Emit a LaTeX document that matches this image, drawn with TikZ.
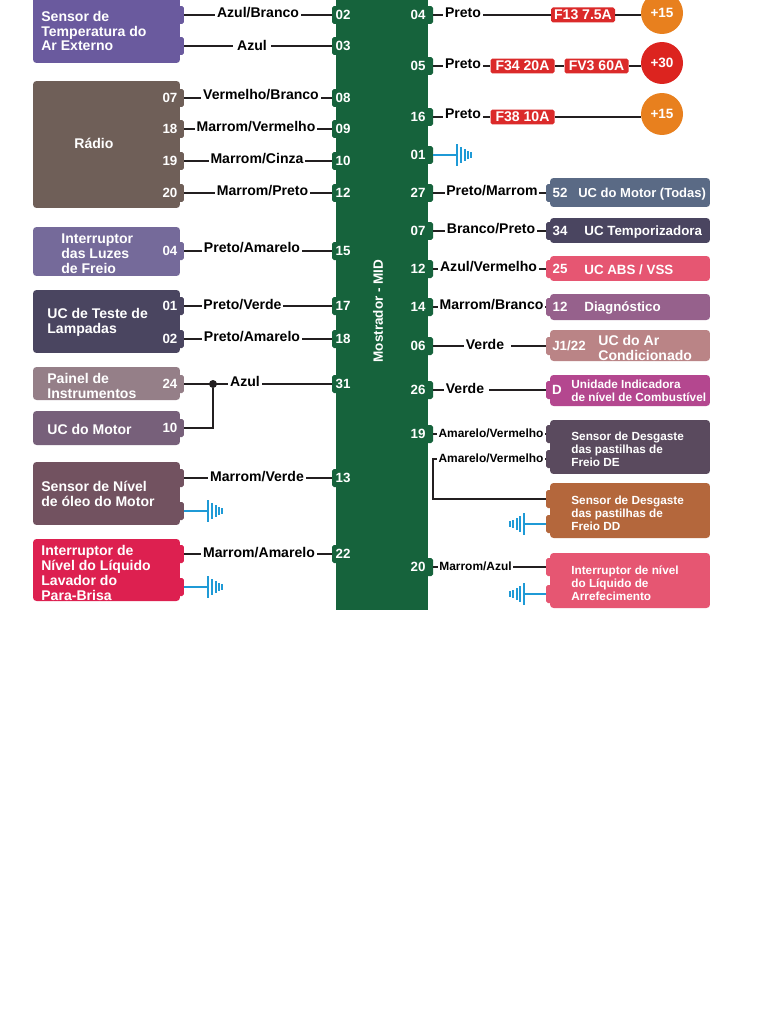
\documentclass[tikz,border=0pt]{standalone}
\usepackage{fontspec}
\setmainfont{Liberation Sans}
\definecolor{barcol}{HTML}{16633C}
\definecolor{tempcol}{HTML}{6A5A9E}
\definecolor{radiocol}{HTML}{6F5F58}
\definecolor{luzescol}{HTML}{756A9A}
\definecolor{testecol}{HTML}{4A4560}
\definecolor{painelcol}{HTML}{957F88}
\definecolor{motorcol}{HTML}{77607A}
\definecolor{oleocol}{HTML}{725260}
\definecolor{lavadorcol}{HTML}{DD2050}
\definecolor{todascol}{HTML}{5A6A85}
\definecolor{abscol}{HTML}{E65672}
\definecolor{diagcol}{HTML}{96618C}
\definecolor{arcol}{HTML}{BA8486}
\definecolor{combcol}{HTML}{B4478F}
\definecolor{decol}{HTML}{5A4A5E}
\definecolor{ddcol}{HTML}{B4673C}
\definecolor{fusecol}{HTML}{DB2A2A}
\definecolor{orangecol}{HTML}{E8801E}
\definecolor{redcol}{HTML}{DC241F}
\definecolor{gndcol}{HTML}{1F9AD6}
\definecolor{wirecol}{HTML}{231F20}
\tikzset{
	boxl/.style={rectangle, rounded corners=2pt, minimum width=2.94cm, inner sep=0pt},
	boxr/.style={rectangle, rounded corners=2pt, minimum width=3.2cm, inner sep=0pt},
	tab/.style={rectangle, rounded corners=1pt, minimum width=0.56cm, minimum height=0.36cm, inner sep=0pt,
		text=white, font=\fontsize{7.6}{8}\selectfont\bfseries},
	pinl/.style={tab, fill=barcol, minimum width=0.44cm},
	pinr/.style={tab, fill=barcol, minimum width=0.6cm},
	txt/.style={anchor=west, align=left, inner sep=0pt, text=white, font=\fontsize{8}{8.5}\selectfont\bfseries},
	txts/.style={txt, font=\fontsize{6.7}{7.4}\selectfont\bfseries},
	wire/.style={draw=wirecol, line width=0.04cm},
	lbl/.style={fill=white, inner xsep=1pt, inner ysep=1.5pt, text=black, font=\fontsize{8}{8}\selectfont\bfseries},
	lbls/.style={lbl, font=\fontsize{6.8}{8}\selectfont\bfseries},
	fuse/.style={rectangle, rounded corners=1pt, fill=fusecol, minimum width=1.28cm, minimum height=0.3cm, inner sep=0pt,
		text=white, font=\fontsize{8}{8}\selectfont\bfseries},
	feed/.style={circle, minimum size=0.84cm, inner sep=0pt, text=white, font=\fontsize{7.7}{8}\selectfont\bfseries},
	gndwire/.style={draw=gndcol, line width=0.04cm},
	gnd/.pic={
		\draw[gndcol, line width=0.04cm] (0,-11) -- (0,11);
		\draw[gndcol, line width=0.04cm] (4,-8) -- (4,8);
		\draw[gndcol, line width=0.04cm] (7.5,-6) -- (7.5,6);
		\draw[gndcol, line width=0.04cm] (11,-4) -- (11,4);
		\draw[gndcol, line width=0.04cm] (14,-3) -- (14,3);
	}
}
\begin{document}
\begin{tikzpicture}[x=0.02cm, y=-0.02cm]
	\clip (0,0) rectangle (768,1024);
	\fill[white] (0,0) rectangle (768,1024);

	% left boxes
	\node[boxl, fill=tempcol, minimum height=1.46cm] (temp) at (106.5,26.5) {};
	\node[boxl, fill=radiocol, minimum height=2.54cm] (radio) at (106.5,144.5) {};
	\node[boxl, fill=luzescol, minimum height=0.98cm] (luzes) at (106.5,251.5) {};
	\node[boxl, fill=testecol, minimum height=1.26cm] (teste) at (106.5,321.5) {};
	\node[boxl, fill=painelcol, minimum height=0.66cm] (painel) at (106.5,383.5) {};
	\node[boxl, fill=motorcol, minimum height=0.68cm] (motor) at (106.5,428) {};
	\node[boxl, fill=oleocol, minimum height=1.26cm] (oleo) at (106.5,493.5) {};
	\node[boxl, fill=lavadorcol, minimum height=1.24cm] (lavador) at (106.5,570) {};

	\node[txt] (temptext) at (41,31) {Sensor de\\Temperatura do\\Ar Externo};
	\node[txt] (radiotext) at (74,143) {Rádio};
	\node[txt] (luzestext) at (61,254) {Interruptor\\das Luzes\\de Freio};
	\node[txt] (testetext) at (47,322) {UC de Teste de\\Lampadas};
	\node[txt, font=\fontsize{8}{9}\selectfont\bfseries] (paineltext) at (47,386) {Painel de\\Instrumentos};
	\node[txt] (motortext) at (47,429) {UC do Motor};
	\node[txt] (oleotext) at (41,494) {Sensor de Nível\\de óleo do Motor};
	\node[txt] (lavadortext) at (41,573) {Interruptor de\\Nível do Líquido\\Lavador do\\Para-Brisa};

	% left tabs
	\node[tab, fill=tempcol] (tempa) at (170,15) {};
	\node[tab, fill=tempcol] (tempb) at (170,46) {};
	\node[tab, fill=radiocol] (radioa) at (170,98) {07};
	\node[tab, fill=radiocol] (radiob) at (170,129) {18};
	\node[tab, fill=radiocol] (radioc) at (170,161) {19};
	\node[tab, fill=radiocol] (radiod) at (170,193) {20};
	\node[tab, fill=luzescol] (luzesa) at (170,251) {04};
	\node[tab, fill=testecol] (testea) at (170,306) {01};
	\node[tab, fill=testecol] (testeb) at (170,339) {02};
	\node[tab, fill=painelcol] (painela) at (170,384) {24};
	\node[tab, fill=motorcol] (motora) at (170,428) {10};
	\node[tab, fill=oleocol] (oleoa) at (170,478) {};
	\node[tab, fill=oleocol] (oleob) at (170,511) {};
	\node[tab, fill=lavadorcol] (lavadora) at (170,554) {};
	\node[tab, fill=lavadorcol] (lavadorb) at (170,587) {};

	% module bar
	\node[rectangle, fill=barcol, minimum width=1.84cm, minimum height=12.4cm, inner sep=0pt] (mid) at (382,300) {};
	\node[rotate=90, inner sep=0pt, text=white, font=\fontsize{7.7}{8}\selectfont\bfseries] (midtext) at (378,311) {Mostrador - MID};

	\node[pinl] (l02) at (343,15) {02};
	\node[pinl] (l03) at (343,46) {03};
	\node[pinl] (l08) at (343,98) {08};
	\node[pinl] (l09) at (343,129) {09};
	\node[pinl] (l10) at (343,161) {10};
	\node[pinl] (l12) at (343,193) {12};
	\node[pinl] (l15) at (343,251) {15};
	\node[pinl] (l17) at (343,306) {17};
	\node[pinl] (l18) at (343,339) {18};
	\node[pinl] (l31) at (343,384) {31};
	\node[pinl] (l13) at (343,478) {13};
	\node[pinl] (l22) at (343,554) {22};

	\node[pinr] (r04) at (418,15) {04};
	\node[pinr] (r05) at (418,66) {05};
	\node[pinr] (r16) at (418,117) {16};
	\node[pinr] (r01) at (418,155) {01};
	\node[pinr] (r27) at (418,193) {27};
	\node[pinr] (r07) at (418,231) {07};
	\node[pinr] (r12) at (418,269) {12};
	\node[pinr] (r14) at (418,307) {14};
	\node[pinr] (r06) at (418,346) {06};
	\node[pinr] (r26) at (418,390) {26};
	\node[pinr] (r19) at (418,434) {19};
	\node[pinr] (r20) at (418,567) {20};

	% fuses and feeds
	\node[fuse] (f13) at (583,15) {F13 7.5A};
	\node[fuse] (f34) at (522.5,66) {F34 20A};
	\node[fuse] (fv3) at (596.5,66) {FV3 60A};
	\node[fuse] (f38) at (522.5,117) {F38 10A};
	\node[feed, fill=orangecol] (feeda) at (662,13) {+15};
	\node[feed, fill=redcol] (feedb) at (662,63) {+30};
	\node[feed, fill=orangecol] (feedc) at (662,114) {+15};

	% right boxes
	\node[boxr, fill=todascol, minimum height=0.58cm] (todas) at (630,192.5) {};
	\node[boxr, fill=testecol, minimum height=0.5cm] (tempo) at (630,230.5) {};
	\node[boxr, fill=abscol, minimum height=0.5cm] (abs) at (630,268.5) {};
	\node[boxr, fill=diagcol, minimum height=0.52cm] (diag) at (630,307) {};
	\node[boxr, fill=arcol, minimum height=0.62cm] (ar) at (630,345.5) {};
	\node[boxr, fill=combcol, minimum height=0.62cm] (comb) at (630,390.5) {};
	\node[boxr, fill=decol, minimum height=1.08cm] (de) at (630,447) {};
	\node[boxr, fill=ddcol, minimum height=1.1cm] (dd) at (630,510.5) {};
	\node[boxr, fill=abscol, minimum height=1.1cm] (arref) at (630,580.5) {};

	\node[tab, fill=todascol] (todasa) at (560,193) {52};
	\node[tab, fill=testecol] (tempoa) at (560,231) {34};
	\node[tab, fill=abscol] (absa) at (560,269) {25};
	\node[tab, fill=diagcol] (diaga) at (560,307) {12};
	\node[tab, fill=arcol, minimum width=0.92cm] (ara) at (569,346) {J1/22};
	\node[tab, fill=combcol] (comba) at (560,390) {D\hspace*{0.12cm}};
	\node[tab, fill=decol] (dea) at (560,434) {};
	\node[tab, fill=decol] (deb) at (560,459) {};
	\node[tab, fill=ddcol] (dda) at (560,499) {};
	\node[tab, fill=ddcol] (ddb) at (560,524) {};
	\node[tab, fill=abscol] (arrefa) at (560,567) {};
	\node[tab, fill=abscol] (arrefb) at (560,594) {};

	\node[txt, font=\fontsize{7.4}{8}\selectfont\bfseries] (todastext) at (578,194) {UC do Motor (Todas)};
	\node[txt, font=\fontsize{7.6}{8}\selectfont\bfseries] (tempotext) at (584,232) {UC Temporizadora};
	\node[txt, font=\fontsize{7.6}{8}\selectfont\bfseries] (abstext) at (584,270) {UC ABS / VSS};
	\node[txt, font=\fontsize{7.6}{8}\selectfont\bfseries] (diagtext) at (584,308) {Diagnóstico};
	\node[txt] (artext) at (598,348) {UC do Ar\\Condicionado};
	\node[txts] (combtext) at (571,391) {Unidade Indicadora\\de nível de Combustível};
	\node[txts] (detext) at (571,449) {Sensor de Desgaste\\das pastilhas de\\Freio DE};
	\node[txts] (ddtext) at (571,513) {Sensor de Desgaste\\das pastilhas de\\Freio DD};
	\node[txts] (arreftext) at (571,583) {Interruptor de nível\\do Líquido de\\Arrefecimento};

	% wires, left side
	\draw[wire] (tempa.east) -- (l02.west);
	\draw[wire] (tempb.east) -- (l03.west);
	\draw[wire] (radioa.east) -- (l08.west);
	\draw[wire] (radiob.east) -- (l09.west);
	\draw[wire] (radioc.east) -- (l10.west);
	\draw[wire] (radiod.east) -- (l12.west);
	\draw[wire] (luzesa.east) -- (l15.west);
	\draw[wire] (testea.east) -- (l17.west);
	\draw[wire] (testeb.east) -- (l18.west);
	\draw[wire] (painela.east) -- (l31.west);
	\node[circle, fill=wirecol, minimum size=0.16cm, inner sep=0pt] (junc) at (213,384) {};
	\draw[wire] (motora.east) -| (junc);
	\draw[wire] (oleoa.east) -- (l13.west);
	\draw[wire] (lavadora.east) -- (l22.west);

	% wires, right side
	\draw[wire] (r04.east) -- (f13.west);
	\draw[wire] (f13.east) -- (f13.east -| feeda.west);
	\draw[wire] (r05.east) -- (f34.west);
	\draw[wire] (f34.east) -- (fv3.west);
	\draw[wire] (fv3.east) -- (fv3.east -| feedb.west);
	\draw[wire] (r16.east) -- (f38.west);
	\draw[wire] (f38.east) -- (f38.east -| feedc.west);
	\draw[wire] (r27.east) -- (todasa.west);
	\draw[wire] (r07.east) -- (tempoa.west);
	\draw[wire] (r12.east) -- (absa.west);
	\draw[wire] (r14.east) -- (diaga.west);
	\draw[wire] (r06.east) -- (ara.west);
	\draw[wire] (r26.east) -- (comba.west);
	\draw[wire] (r19.east) -- (dea.west);
	\coordinate (jog) at (433,459);
	\draw[wire] (deb.west) -- (jog) |- (dda.west);
	\draw[wire] (r20.east) -- (arrefa.west);

	% grounds
	\coordinate (gnda) at (208,511);
	\coordinate (gndb) at (208,587);
	\coordinate (gndc) at (457,155);
	\coordinate (gndd) at (524,524);
	\coordinate (gnde) at (524,594);
	\draw[gndwire] (oleob.east) -- (gnda) pic {gnd};
	\draw[gndwire] (lavadorb.east) -- (gndb) pic {gnd};
	\draw[gndwire] (r01.east) -- (gndc) pic {gnd};
	\draw[gndwire] (ddb.west) -- (gndd) pic[xscale=-1] {gnd};
	\draw[gndwire] (arrefb.west) -- (gnde) pic[xscale=-1] {gnd};

	% wire colours
	\node[lbl] (azulbranco) at (258,12.5) {Azul/Branco};
	\node[lbl, inner xsep=2.5pt] (azul) at (252,45) {Azul};
	\node[lbl] (vermbranco) at (261,94.5) {Vermelho/Branco};
	\node[lbl] (marrverm) at (256,126.5) {Marrom/Vermelho};
	\node[lbl] (marrcinza) at (257,159) {Marrom/Cinza};
	\node[lbl] (marrpreto) at (262.5,190.5) {Marrom/Preto};
	\node[lbl] (pretoamaa) at (252,247.5) {Preto/Amarelo};
	\node[lbl] (pretoverde) at (242.5,305) {Preto/Verde};
	\node[lbl] (pretoamab) at (252,337) {Preto/Amarelo};
	\node[lbl, inner xsep=1.5pt] (azulb) at (245,381) {Azul};
	\node[lbl] (marrverde) at (257,477) {Marrom/Verde};
	\node[lbl] (marrama) at (259,553) {Marrom/Amarelo};
	\node[lbl] (pretoa) at (463,12.5) {Preto};
	\node[lbl] (pretob) at (463,63.5) {Preto};
	\node[lbl] (pretoc) at (463,114) {Preto};
	\node[lbl] (pretomarr) at (492,191) {Preto/Marrom};
	\node[lbl] (brancopreto) at (491,229) {Branco/Preto};
	\node[lbl] (azulverm) at (488.5,267) {Azul/Vermelho};
	\node[lbl] (marrbranco) at (491.5,305) {Marrom/Branco};
	\node[lbl] (verdea) at (487.5,344) {Verde\hspace*{0.1cm}};
	\node[lbl] (verdeb) at (466.5,388) {Verde\hspace*{0.06cm}};
	\node[lbls] (amaverma) at (491,433) {Amarelo/Vermelho};
	\node[lbls] (amavermb) at (491,458) {Amarelo/Vermelho};
	\node[lbls] (marrazul) at (475.5,566) {Marrom/Azul};
\end{tikzpicture}
\end{document}
